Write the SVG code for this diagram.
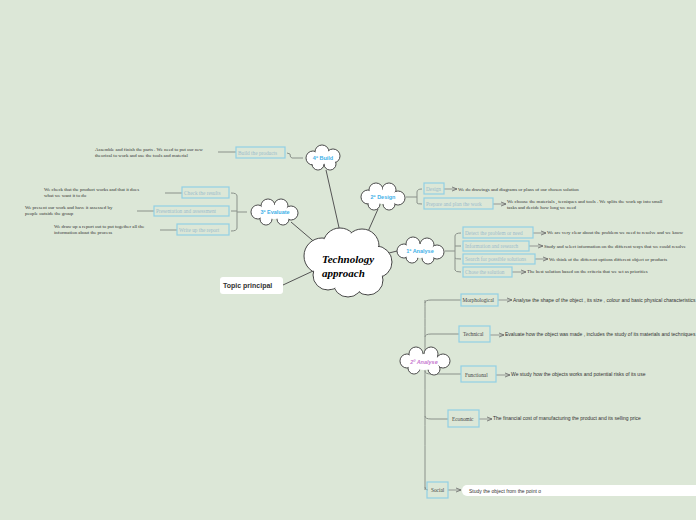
<svg xmlns="http://www.w3.org/2000/svg" width="696" height="520" viewBox="0 0 696 520">
<defs>
<marker id="ah" markerWidth="6" markerHeight="6" refX="5" refY="3" orient="auto" markerUnits="userSpaceOnUse"><path d="M0,1 L5,3 L0,5" fill="none" stroke="#666" stroke-width="0.8"/></marker>
</defs>
<style>
.bg{fill:#dce7d7}
.cs{fill:#fff;stroke:#444;stroke-width:1}
.cf{fill:#fff}
.con{fill:none;stroke:#555;stroke-width:1}
.br{fill:none;stroke:#8a918a;stroke-width:1}
.ar{fill:none;stroke:#777;stroke-width:0.7;marker-end:url(#ah)}
.box{fill:none;stroke:#92d0e4;stroke-width:1.2}
.bt{font-family:"Liberation Serif",serif;font-size:5.3px;fill:#9bbccc}
.bt2{font-family:"Liberation Serif",serif;font-size:5.3px;fill:#444}
.d{font-family:"Liberation Serif",serif;font-size:4.9px;fill:#333}
.s{font-family:"Liberation Sans",sans-serif;font-size:5px;fill:#333}
.ct{font-family:"Liberation Sans",sans-serif;font-size:5.5px;font-weight:bold;fill:#3fb1e8;text-anchor:middle}
</style>
<rect class="bg" width="696" height="520"/>
<g id="connectors">
<line class="con" x1="340" y1="232" x2="326" y2="170"/>
<line class="con" x1="318" y1="245" x2="291" y2="222"/>
<line class="con" x1="366" y1="236" x2="378" y2="209"/>
<line class="con" x1="385" y1="254" x2="397" y2="251"/>
<line class="con" x1="283" y1="285" x2="313" y2="271"/>
<path class="br" d="M303,158 H292 Q290,158 290,154 L287,153"/>
<path class="br" d="M247,212 H237 M237,196 V228 M237,196 Q237,193 231,193 M237,228 Q237,231 231,231 M237,211 H231"/>
<path class="br" d="M406,197 H417 M417,192 V203 M417,192 Q417,189 422,189 M417,203 Q417,204 422,204"/>
<path class="br" d="M445,251 H455 M455,236 V270 M455,236 Q455,233 461,233 M455,246 H461 M455,258 Q455,259 461,259 M455,270 Q455,272 461,272"/>
<path class="br" d="M425,300 Q425,300 425,490 M425,303 Q425,300 431,300 H461 M425,337 Q425,334 431,334 H459 M425,371 Q425,374 431,374 H461 M425,416 Q425,419 431,419 H448 M425,487 Q425,490 428,490"/>
<line class="br" x1="218" y1="152" x2="236" y2="152"/>
<line class="br" x1="165" y1="193" x2="182" y2="193"/>
<line class="br" x1="137" y1="211" x2="154" y2="211"/>
<line class="br" x1="160" y1="230" x2="177" y2="230"/>
<line class="ar" x1="444" y1="189" x2="457" y2="189"/>
<line class="ar" x1="493" y1="204" x2="506" y2="204"/>
<line class="ar" x1="533" y1="233" x2="546" y2="233"/>
<line class="ar" x1="529" y1="246" x2="543" y2="246"/>
<line class="ar" x1="535" y1="259" x2="548" y2="259"/>
<line class="ar" x1="512" y1="272" x2="526" y2="272"/>
<line class="ar" x1="498" y1="300" x2="512" y2="300"/>
<line class="ar" x1="490" y1="335" x2="504" y2="335"/>
<line class="ar" x1="496" y1="375" x2="510" y2="375"/>
<line class="ar" x1="479" y1="419" x2="492" y2="419"/>
<line class="ar" x1="448" y1="490" x2="461" y2="490"/>
</g>
<g id="center">
<g class="cs"><circle cx="322" cy="256" r="18"/><circle cx="340" cy="245" r="17"/><circle cx="362" cy="246" r="17"/><circle cx="376" cy="262" r="16"/><circle cx="368" cy="280" r="15"/><circle cx="348" cy="282" r="15"/><circle cx="328" cy="275" r="15"/></g>
<g class="cf"><circle cx="322" cy="256" r="17"/><circle cx="340" cy="245" r="16"/><circle cx="362" cy="246" r="16"/><circle cx="376" cy="262" r="15"/><circle cx="368" cy="280" r="14"/><circle cx="348" cy="282" r="14"/><circle cx="328" cy="275" r="14"/><ellipse cx="348" cy="264" rx="28" ry="20"/></g>
<text x="322" y="263" font-family="Liberation Serif,serif" font-size="11px" font-weight="bold" font-style="italic" fill="#000">Technology</text>
<text x="322" y="277" font-family="Liberation Serif,serif" font-size="11px" font-weight="bold" font-style="italic" fill="#000">approach</text>
</g>
<g id="topic">
<rect x="220" y="277" width="63" height="17" rx="3" fill="#fff"/>
<text x="223" y="288" font-family="Liberation Sans,sans-serif" font-size="7px" font-weight="bold" fill="#333">Topic principal</text>
</g>
<g id="build">
<g class="cs"><circle cx="313" cy="158" r="7"/><circle cx="322" cy="152" r="7"/><circle cx="333" cy="156" r="7"/><circle cx="330" cy="164" r="6"/><circle cx="318" cy="164" r="6"/></g>
<g class="cf"><circle cx="313" cy="158" r="6.2"/><circle cx="322" cy="152" r="6.2"/><circle cx="333" cy="156" r="6.2"/><circle cx="330" cy="164" r="5.2"/><circle cx="318" cy="164" r="5.2"/><ellipse cx="323" cy="158" rx="10" ry="6"/></g>
<text class="ct" x="323" y="160">4º Build</text>
<rect class="box" x="236" y="147" width="49" height="11"/><text class="bt" x="238" y="154.5">Build the products</text>
<text class="d" x="95" y="151">Assemble and finish the parts . We need to put our new</text>
<text class="d" x="95" y="157">theorical to work and use the tools and material</text>
</g>
<g id="evaluate">
<g class="cs"><circle cx="258" cy="212" r="7"/><circle cx="268" cy="206" r="7"/><circle cx="281" cy="206" r="7"/><circle cx="291" cy="213" r="7"/><circle cx="283" cy="219" r="6"/><circle cx="266" cy="219" r="6"/></g>
<g class="cf"><circle cx="258" cy="212" r="6.2"/><circle cx="268" cy="206" r="6.2"/><circle cx="281" cy="206" r="6.2"/><circle cx="291" cy="213" r="6.2"/><circle cx="283" cy="219" r="5.2"/><circle cx="266" cy="219" r="5.2"/><ellipse cx="274" cy="212" rx="14" ry="7"/></g>
<text class="ct" x="275" y="214">3º Evaluate</text>
<rect class="box" x="182" y="187" width="47" height="11"/><text class="bt" x="184" y="194.5">Check the results</text>
<rect class="box" x="154" y="206" width="75" height="10"/><text class="bt" x="156" y="213">Presentation and assessment</text>
<rect class="box" x="177" y="224" width="52" height="11"/><text class="bt" x="179" y="231.5">Write up the report</text>
<text class="d" x="44" y="191">We check that the product works and that it does</text>
<text class="d" x="44" y="197">what we want it to do</text>
<text class="d" x="25" y="209">We present our work and have it assessed by</text>
<text class="d" x="25" y="215">people outside the group</text>
<text class="d" x="54" y="228">We draw up a report out to put together all the</text>
<text class="d" x="54" y="234">information about the process</text>
</g>
<g id="design">
<g class="cs"><circle cx="368" cy="197" r="7"/><circle cx="376" cy="190" r="7"/><circle cx="389" cy="190" r="7"/><circle cx="398" cy="198" r="7"/><circle cx="389" cy="204" r="6"/><circle cx="374" cy="204" r="6"/></g>
<g class="cf"><circle cx="368" cy="197" r="6.2"/><circle cx="376" cy="190" r="6.2"/><circle cx="389" cy="190" r="6.2"/><circle cx="398" cy="198" r="6.2"/><circle cx="389" cy="204" r="5.2"/><circle cx="374" cy="204" r="5.2"/><ellipse cx="383" cy="197" rx="13" ry="7"/></g>
<text class="ct" x="383" y="199">2º Design</text>
<rect class="box" x="424" y="183" width="20" height="11"/><text class="bt" x="426" y="190.5">Design</text>
<rect class="box" x="424" y="198" width="69" height="11"/><text class="bt" x="426" y="205.5">Prepare and plan the work</text>
<text class="d" x="458" y="191">We do drawings and diagrams or plans of our chosen solution</text>
<text class="d" x="507" y="203">We choose the materials , tecniques and tools . We  splits the work up into small</text>
<text class="d" x="507" y="209">tasks and decide how long we need</text>
</g>
<g id="analyse1">
<g class="cs"><circle cx="404" cy="251" r="7"/><circle cx="413" cy="244" r="7"/><circle cx="427" cy="245" r="7"/><circle cx="437" cy="252" r="7"/><circle cx="428" cy="258" r="6"/><circle cx="412" cy="257" r="6"/></g>
<g class="cf"><circle cx="404" cy="251" r="6.2"/><circle cx="413" cy="244" r="6.2"/><circle cx="427" cy="245" r="6.2"/><circle cx="437" cy="252" r="6.2"/><circle cx="428" cy="258" r="5.2"/><circle cx="412" cy="257" r="5.2"/><ellipse cx="420" cy="251" rx="14" ry="7"/></g>
<text class="ct" x="420" y="253">1º Analyse</text>
<rect class="box" x="463" y="227" width="70" height="11"/><text class="bt" x="465" y="234.5">Detect the problem or need</text>
<rect class="box" x="463" y="241" width="66" height="10"/><text class="bt" x="465" y="248">Information and research</text>
<rect class="box" x="463" y="254" width="72" height="10"/><text class="bt" x="465" y="261">Search for possible solutions</text>
<rect class="box" x="463" y="267" width="49" height="10"/><text class="bt" x="465" y="274">Chose the solution</text>
<text class="d" x="547" y="234">We are very clear about the problem we need to resolve and we know</text>
<text class="d" x="544" y="248">Study and select information on the different ways that we could resolve</text>
<text class="d" x="549" y="261">We think of the different options different object or products</text>
<text class="d" x="527" y="273">The best solution based on the criteria that we set as priorities</text>
</g>
<g id="analyse2">
<g class="cs"><circle cx="407" cy="361" r="7"/><circle cx="416" cy="354" r="7"/><circle cx="431" cy="354" r="7"/><circle cx="443" cy="361" r="7"/><circle cx="434" cy="369" r="6"/><circle cx="414" cy="368" r="6"/></g>
<g class="cf"><circle cx="407" cy="361" r="6.2"/><circle cx="416" cy="354" r="6.2"/><circle cx="431" cy="354" r="6.2"/><circle cx="443" cy="361" r="6.2"/><circle cx="434" cy="369" r="5.2"/><circle cx="414" cy="368" r="5.2"/><ellipse cx="424" cy="362" rx="16" ry="8"/></g>
<text class="ct" x="424" y="364" fill="#c77ad0" style="fill:#c77ad0;font-style:italic">2º Analyse</text>
<rect class="box" x="461" y="294" width="37" height="12"/><text class="bt2" x="462.5" y="302">Morphological</text>
<rect class="box" x="459" y="326" width="31" height="16"/><text class="bt2" x="463" y="336">Technical</text>
<rect class="box" x="461" y="366" width="35" height="16"/><text class="bt2" x="465" y="377">Functional</text>
<rect class="box" x="448" y="410" width="31" height="17"/><text class="bt2" x="452" y="421">Economic</text>
<rect class="box" x="427" y="482" width="21" height="16"/><text class="bt2" x="431" y="492">Social</text>
<text class="s" x="513" y="302">Analyse the shape of the object , its size , colour and basic physical characteristics</text>
<text class="s" x="505" y="336">Evaluate how the object was made , includes the study of its materials and techniques</text>
<text class="s" x="511" y="376">We study how the objects works and potential risks of its use</text>
<text class="s" x="493" y="420">The financial cost of manufacturing the product and its selling price</text>
<rect x="462" y="485" width="240" height="11" rx="5" fill="#fff"/>
<text class="s" x="469" y="492.5">Study the object from the point o</text>
</g>
</svg>
